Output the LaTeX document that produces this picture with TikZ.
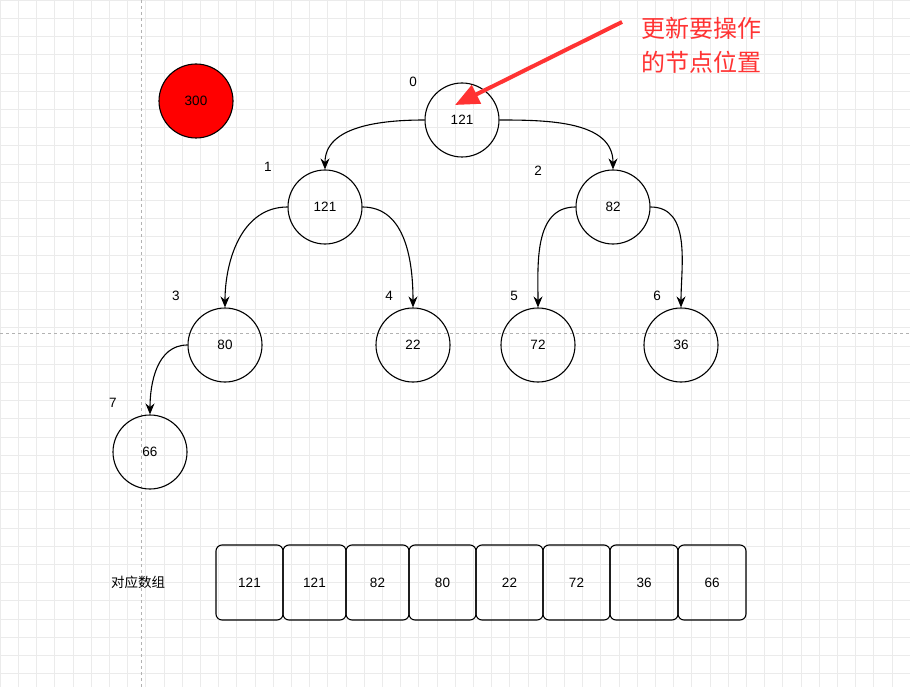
\documentclass[tikz,border=0pt]{standalone}
\usepackage{fontspec}
\setmainfont{Liberation Sans}
\newfontfamily\cjk{Noto Sans CJK SC}
\usetikzlibrary{arrows.meta}
\begin{document}
\begin{tikzpicture}[x=1pt,y=-1pt,
  hn/.style={circle,draw,line width=1.1pt,minimum size=74pt,inner sep=0pt,font=\fontsize{13.5}{15}\selectfont},
  idx/.style={font=\fontsize{13.5}{15}\selectfont},
  cell/.style={draw,line width=1.1pt,rounded corners=6pt,minimum height=75pt,font=\fontsize{13.5}{15}\selectfont},
  ed/.style={line width=1.1pt,-{Stealth[length=11pt,width=9pt]}}]
\useasboundingbox (0,0) rectangle (910,687);
\fill[white] (0,0) rectangle (910,687);
\foreach \i in {0,...,50} \draw[black!8,line width=0.5pt] (\i*18.2,0) -- (\i*18.2,687);
\foreach \i in {0,...,38} \draw[black!8,line width=0.5pt] (0,\i*18.2) -- (910,\i*18.2);
\draw[black!30,dashed] (0,333) -- (910,333);
\draw[black!30,dashed] (141,0) -- (141,687);
\node[hn,fill=red] (r) at (196,101) {300};
\node[hn] (n0) at (462,120) {121};
\node[hn] (n1) at (325,207) {121};
\node[hn] (n2) at (613,207) {82};
\node[hn] (n3) at (225,345) {80};
\node[hn] (n4) at (413,345) {22};
\node[hn] (n5) at (538,345) {72};
\node[hn] (n6) at (681,345) {36};
\node[hn] (n7) at (150,452) {66};
\node[idx] (i0) at (413,82) {0};
\node[idx] (i1) at (268,167) {1};
\node[idx] (i2) at (538,171) {2};
\node[idx] (i3) at (176,296) {3};
\node[idx] (i4) at (389,296) {4};
\node[idx] (i5) at (514,296) {5};
\node[idx] (i6) at (657,296) {6};
\node[idx] (i7) at (113,403) {7};
\draw[ed] (n0.west) to[out=180,in=90] (n1.north);
\draw[ed] (n0.east) to[out=0,in=90] (n2.north);
\draw[ed] (n1.west) to[out=180,in=90] (n3.north);
\draw[ed] (n1.east) to[out=0,in=90] (n4.north);
\draw[ed] (n2.west) to[out=180,in=90] (n5.north);
\draw[ed] (n2.east) to[out=0,in=90] (n6.north);
\draw[ed] (n3.west) to[out=180,in=90] (n7.north);
\node[idx] (lab) at (138,582) {\cjk 对应数组};
\node[cell,minimum width=67pt] (c0) at (249.5,582.5) {121};
\node[cell,minimum width=63pt] (c1) at (314.5,582.5) {121};
\node[cell,minimum width=63pt] (c2) at (377.5,582.5) {82};
\node[cell,minimum width=67pt] (c3) at (442.5,582.5) {80};
\node[cell,minimum width=67pt] (c4) at (509.5,582.5) {22};
\node[cell,minimum width=67pt] (c5) at (576.5,582.5) {72};
\node[cell,minimum width=68pt] (c6) at (644,582.5) {36};
\node[cell,minimum width=68pt] (c7) at (712,582.5) {66};
\coordinate (as) at (622,22);
\coordinate (ae) at (455,105);
\draw[red!80,line width=4pt,-{Triangle[length=24pt,width=20pt]}] (as) -- (ae);
\node[text=red!80,align=left,font=\cjk\fontsize{24}{34}\selectfont] (t) at (701,45) {更新要操作\\的节点位置};
\end{tikzpicture}
\end{document}
